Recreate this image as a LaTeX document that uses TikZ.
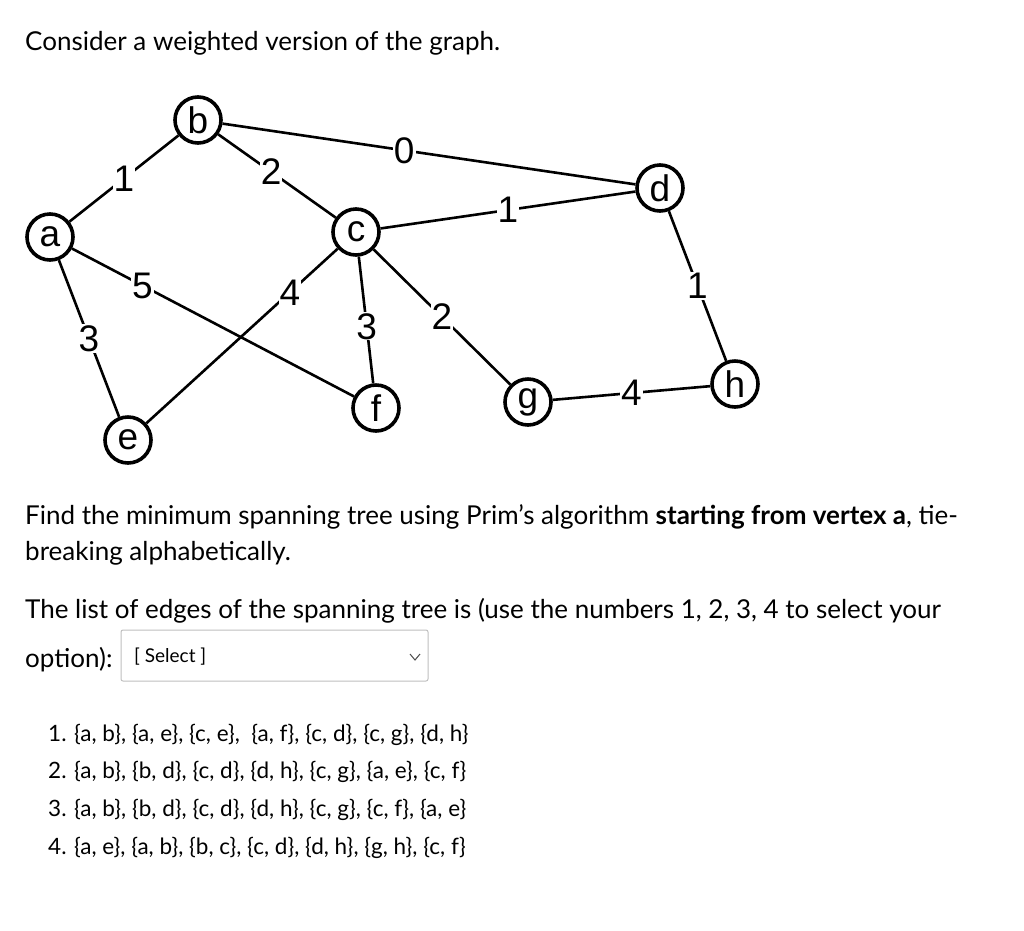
\documentclass[tikz,border=0pt]{standalone}
\usepackage{fontspec}
\setmainfont{Lato}
\newfontfamily\hv{Liberation Sans}
\begin{document}
\begin{tikzpicture}[x=1pt,y=-1pt,
 v/.style={circle,draw,line width=3.6pt,minimum size=46pt,inner sep=0pt,font=\hv\fontsize{37}{37}\selectfont},
 e/.style={line width=2.6pt},
 w/.style={fill=white,inner sep=1pt,font=\hv\fontsize{37}{37}\selectfont},
 t/.style={anchor=west,inner sep=0pt,font=\fontsize{26}{30}\selectfont}]
\useasboundingbox (0,0) rectangle (1024,930);
\node[t] (title) at (25,43) {Consider a weighted version of the graph.};
\node[v] (a) at (50,237) {a};
\node[v] (b) at (198,120) {b};
\node[v] (c) at (356,232) {c};
\node[v] (d) at (660,188) {d};
\node[v] (e) at (128,440) {e};
\node[v] (f) at (376,408) {f};
\node[v] (g) at (528,402) {g};
\node[v] (h) at (735,384) {h};
\draw[e] (a) -- node[w,pos=0.5]{1} (b);
\draw[e] (b) -- node[w,pos=0.44]{0} (d);
\draw[e] (b) -- node[w,pos=0.45]{2} (c);
\draw[e] (c) -- node[w,pos=0.5]{1} (d);
\draw[e] (a) -- node[w,pos=0.5]{3} (e);
\draw[e] (a) -- node[w,pos=0.25]{5} (f);
\draw[e] (e) -- node[w,pos=0.75]{4} (c);
\draw[e] (c) -- node[w,pos=0.55]{3} (f);
\draw[e] (c) -- node[w,pos=0.5]{2} (g);
\draw[e] (d) -- node[w,pos=0.5]{1} (h);
\draw[e] (g) -- node[w,pos=0.5]{4} (h);
\node[t] (q1) at (25,517) {Find the minimum spanning tree using Prim’s algorithm \textbf{starting from vertex a}, tie-};
\node[t] (q2) at (25,553) {breaking alphabetically.};
\node[t] (q3) at (25,611) {The list of edges of the spanning tree is (use the numbers 1, 2, 3, 4 to select your};
\node[t] (q4) at (25,660) {option):};
\draw[draw=black!25,line width=1pt,rounded corners=2pt] (121,630) rectangle (428,681);
\node[anchor=west,inner sep=0pt,font=\fontsize{19}{22}\selectfont] (sel) at (134,657) {[ Select ]};
\draw[line width=1pt,black!70] (410,654) -- (415,660) -- (420,654);
\foreach \i/\y/\s in {1/735/{\{a, b\}, \{a, e\}, \{c, e\},\ \ \{a, f\}, \{c, d\}, \{c, g\}, \{d, h\}},
  2/772/{\{a, b\}, \{b, d\}, \{c, d\}, \{d, h\}, \{c, g\}, \{a, e\}, \{c, f\}},
  3/810/{\{a, b\}, \{b, d\}, \{c, d\}, \{d, h\}, \{c, g\}, \{c, f\}, \{a, e\}},
  4/848/{\{a, e\}, \{a, b\}, \{b, c\}, \{c, d\}, \{d, h\}, \{g, h\}, \{c, f\}}}
  \node[anchor=west,inner sep=0pt,font=\fontsize{22.5}{26}\selectfont] (o\i) at (48,\y) {\i. \s};
\end{tikzpicture}
\end{document}
